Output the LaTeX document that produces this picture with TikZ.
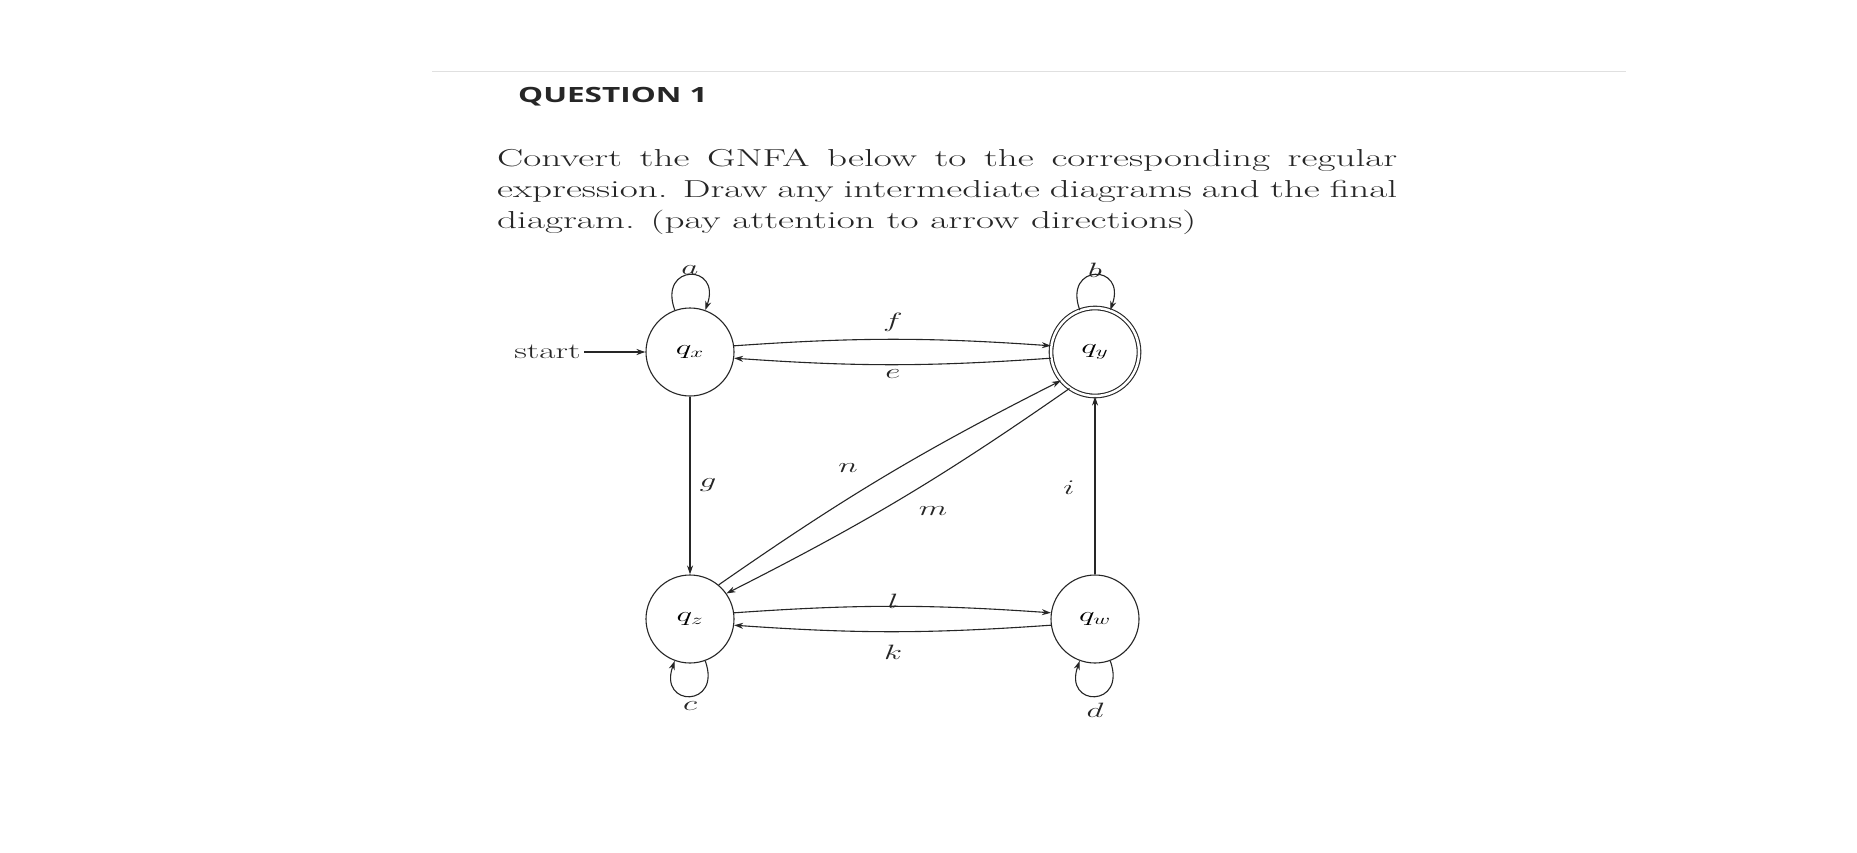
\documentclass[tikz,border=0pt]{standalone}
\usepackage{fontspec}
\setmainfont{Latin Modern Roman}[FakeStretch=1.6]
\newfontfamily\qfont{Open Sans}[FakeStretch=1.5]
\usetikzlibrary{arrows.meta}
\newcommand{\sx}[1]{\scalebox{1.6}[1]{#1}}
\begin{document}
\begin{tikzpicture}[x=1pt,y=-1pt,
  st/.style={circle,draw=black!85,line width=1.1pt,minimum size=88pt,inner sep=0pt,font=\fontsize{20}{20}\selectfont},
  ed/.style={-{Stealth[length=9pt,width=6pt]},draw=black!85,line width=1.1pt},
  lb/.style={font=\fontsize{22}{22}\selectfont,text=black!85}]
\useasboundingbox[fill=white] (0,0) rectangle (1857,853);
\draw[black!12,line width=1pt] (432,72) -- (1626,72);
\node[anchor=west,inner sep=0pt,font=\qfont\bfseries\fontsize{21}{21}\selectfont,text=black!85] (title) at (518,97) {QUESTION 1};
\node[anchor=north west,text width=900pt,align=justify,inner sep=0pt,font=\fontsize{24.5}{31}\selectfont,text=black!85] (para) at (497,149)
 {Convert the GNFA below to the corresponding regular\linebreak expression. Draw any intermediate diagrams and the final\linebreak diagram. (pay attention to arrow directions)};
\node[st] (qx) at (690,352) {\sx{$q_x$}};
\node[st,double,double distance=2.5pt] (qy) at (1095,352) {\sx{$q_y$}};
\node[st] (qz) at (690,619) {\sx{$q_z$}};
\node[st] (qw) at (1095,619) {\sx{$q_w$}};
\node[lb,anchor=east] (start) at (584,352) {start};
\draw[ed] (start) -- (qx);
\draw[ed] (qx.110) .. controls +(-110:50) and +(-70:50) .. (qx.70);
\draw[ed] (qy.110) .. controls +(-110:50) and +(-70:50) .. (qy.70);
\draw[ed] (qz.-70) .. controls +(70:50) and +(110:50) .. (qz.-110);
\draw[ed] (qw.-70) .. controls +(70:50) and +(110:50) .. (qw.-110);
\node[lb] (la) at (690,270) {\sx{$a$}};
\node[lb] (lbb) at (1095,270) {\sx{$b$}};
\node[lb] (lc) at (690,706) {\sx{$c$}};
\node[lb] (ld) at (1095,710) {\sx{$d$}};
\draw[ed] (qx.8) to[bend left=4] (qy.172);
\draw[ed] (qy.188) to[bend left=4] (qx.-8);
\node[lb] (lf) at (893,322) {\sx{$f$}};
\node[lb] (le) at (893,374) {\sx{$e$}};
\draw[ed] (qz.8) to[bend left=4] (qw.172);
\draw[ed] (qw.188) to[bend left=4] (qz.-8);
\node[lb] (ll) at (893,601) {\sx{$l$}};
\node[lb] (lk) at (893,652) {\sx{$k$}};
\draw[ed] (qx) -- (qz);
\node[lb] (lg) at (708,485) {\sx{$g$}};
\draw[ed] (qw) -- (qy);
\node[lb] (li) at (1069,488) {\sx{$i$}};
\draw[ed] (qz.50) to[bend left=4] (qy.-140);
\draw[ed] (qy.-125) to[bend left=4] (qz.35);
\node[lb] (ln) at (848,468) {\sx{$n$}};
\node[lb] (lm) at (933,511) {\sx{$m$}};
\end{tikzpicture}
\end{document}
